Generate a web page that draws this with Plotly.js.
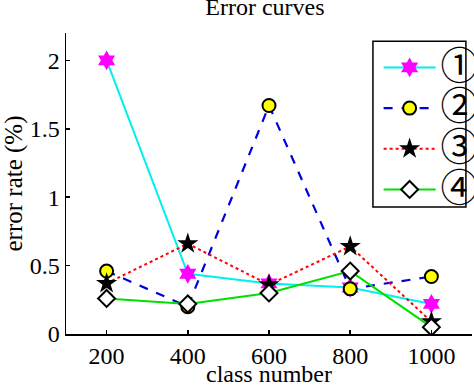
<!DOCTYPE html>
<html><head><meta charset="utf-8">
<script src="https://cdn.plot.ly/plotly-3.0.1.min.js"></script>
<style>html,body{margin:0;padding:0;background:#fff}#c{width:474px;height:387px}</style>
</head><body><div id="c"></div>
<script>
const classes = [200, 400, 600, 800, 1000];
const s1 = [2.0, 0.44, 0.37, 0.34, 0.22];
const s2 = [0.46, 0.2, 1.67, 0.33, 0.42];
const s3 = [0.37, 0.66, 0.36, 0.64, 0.09];
const s4 = [0.26, 0.22, 0.30, 0.46, 0.05];
const names = ['①', '②', '③', '④'];
const yTicks = [0, 0.5, 1, 1.5, 2];

const big = t => '<span style="font-size:38px">' + t + '</span>';

const traces = [
  {x: classes, y: s1, name: big(names[0]), mode: 'lines+markers',
   line: {color: '#00f0f0', width: 2, dash: 'solid'},
   marker: {symbol: 'hexagram', size: 15, color: '#ff00ff', line: {width: 0}}},
  {x: classes, y: s2, name: big(names[1]), mode: 'lines+markers',
   line: {color: '#0000dd', width: 2.2, dash: 'dash'},
   marker: {symbol: 'circle', size: 13, color: '#ffff00', line: {color: '#000', width: 2}}},
  {x: classes, y: s3, name: big(names[2]), mode: 'lines+markers',
   line: {color: '#ff0000', width: 2, dash: 'dot'},
   marker: {symbol: 'star', size: 16, color: '#000', line: {width: 0}}},
  {x: classes, y: s4, name: big(names[3]), mode: 'lines+markers',
   line: {color: '#00e000', width: 2, dash: 'solid'},
   marker: {symbol: 'diamond', size: 13, color: '#fff', line: {color: '#000', width: 2}}}
];

const fam = 'Liberation Serif, Times New Roman, serif';
const f = s => ({family: fam, size: s, color: '#000'});
const layout = {
  width: 474, height: 387,
  margin: {l: 66, r: 2, t: 33, b: 53, autoexpand: false},
  paper_bgcolor: '#fff', plot_bgcolor: '#fff',
  font: f(24),
  title: {text: 'Error curves', font: f(24), x: 0.559, xanchor: 'center', y: 0.982, yanchor: 'middle'},
  xaxis: {range: [100, 1100], tickvals: classes, ticktext: classes.map(String), automargin: false,
    ticks: 'inside', ticklen: 4, tickwidth: 1.5, tickcolor: '#000',
    showline: true, linecolor: '#000', linewidth: 1.5, showgrid: false, zeroline: false,
    tickfont: f(24),
    title: {text: 'class number', font: f(24), standoff: 0}},
  yaxis: {range: [0, 2.2], tickvals: yTicks, ticktext: yTicks.map(String), automargin: false,
    ticks: 'inside', ticklen: 4, tickwidth: 1.5, tickcolor: '#000',
    showline: true, linecolor: '#000', linewidth: 1.5, showgrid: false, zeroline: false,
    tickfont: f(24),
    title: {text: 'error rate (%)', font: f(25), standoff: 4}},
  showlegend: true,
  legend: {x: 0.77, y: 0.97, xanchor: 'left', yanchor: 'top',
    borderwidth: 0, bgcolor: 'rgba(0,0,0,0)',
    font: {family: 'Noto Sans CJK JP, DejaVu Sans', size: 29, color: '#000'},
    itemwidth: 52, tracegroupgap: 0},
  shapes: [{type: 'rect', xref: 'paper', yref: 'paper', x0: 0.756, x1: 0.985, y0: 0.422, y1: 0.973,
    line: {color: '#000', width: 1.5}, fillcolor: '#fff', layer: 'above'}]
};
Plotly.newPlot('c', traces, layout, {displayModeBar: false, staticPlot: true});
</script></body></html>
